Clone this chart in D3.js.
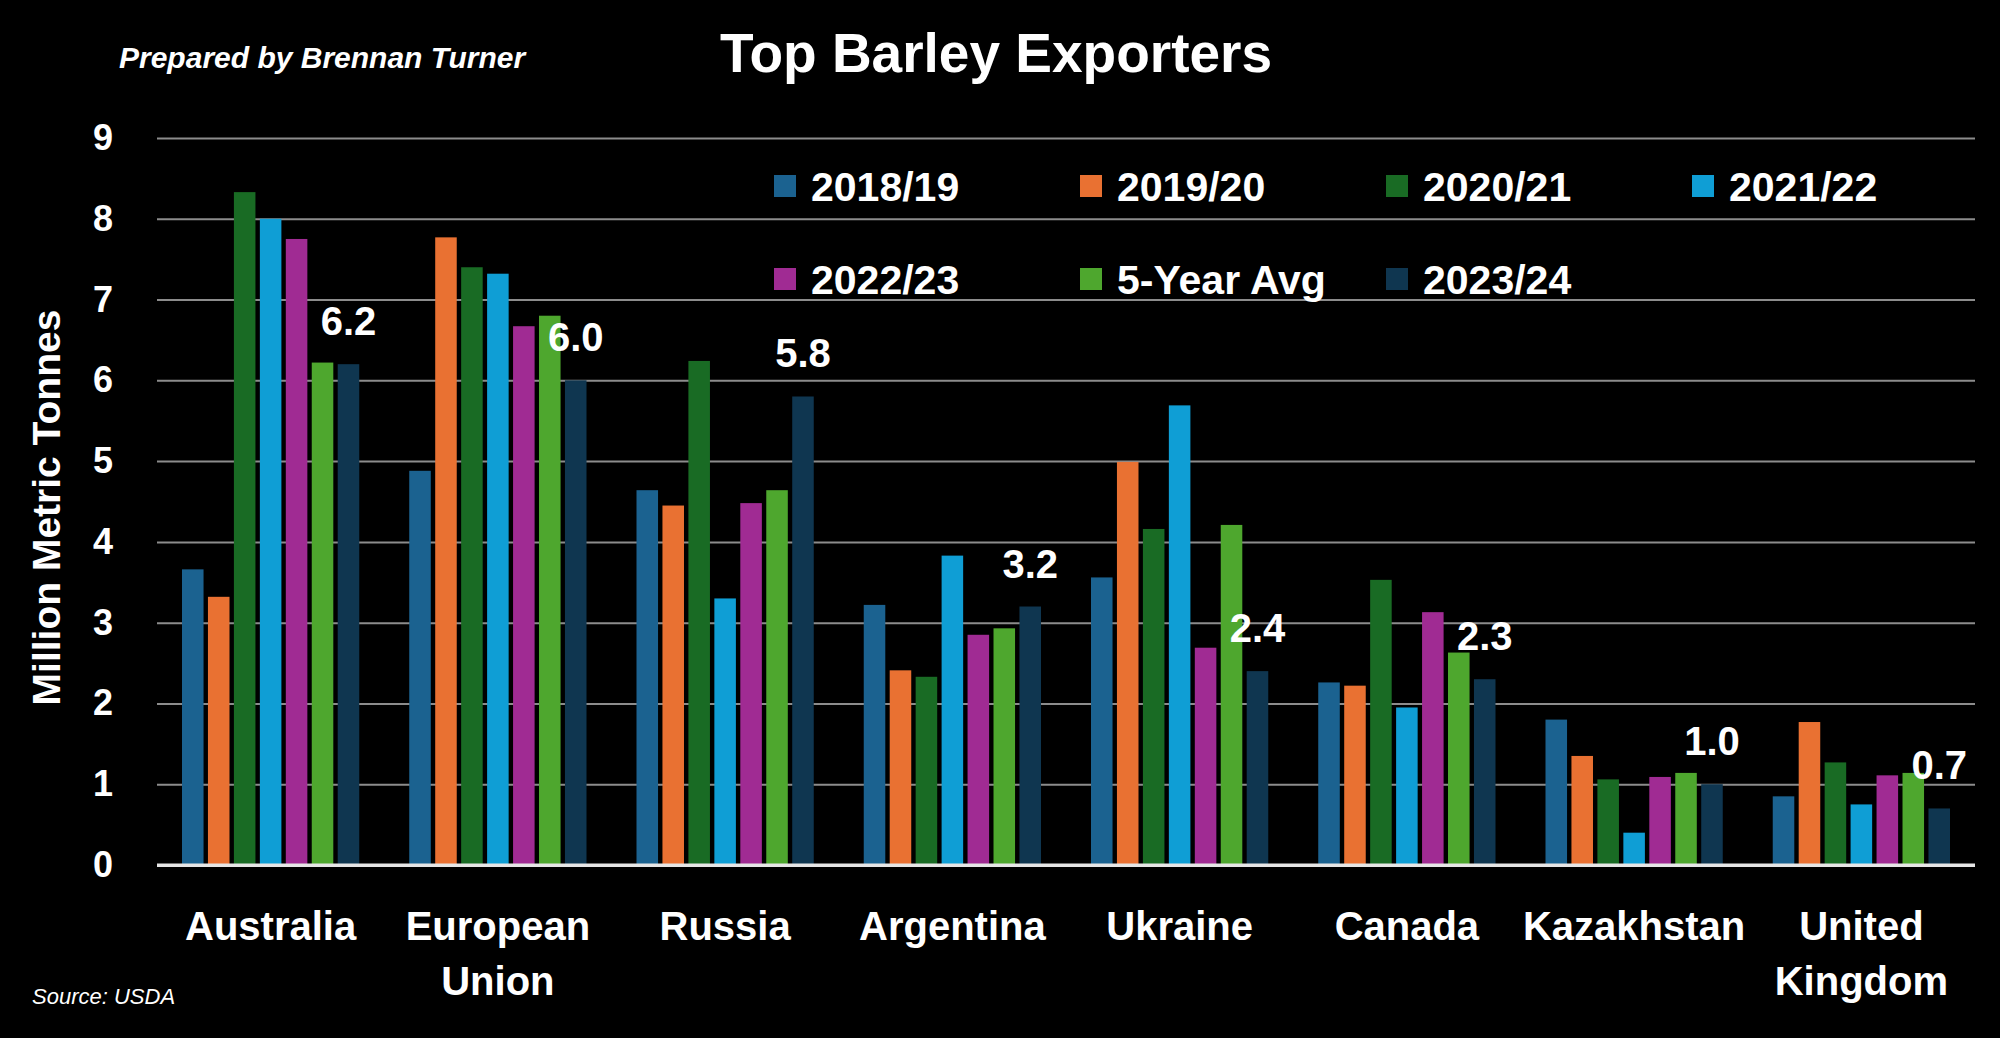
<!DOCTYPE html>
<html>
<head>
<meta charset="utf-8">
<script src="https://cdn.jsdelivr.net/npm/d3@7"></script>
<style>
  html, body { margin: 0; padding: 0; background: #000; }
  svg { display: block; }
  text { font-family: "Liberation Sans", Arial, sans-serif; fill: #fff; }
</style>
</head>
<body>
<script>
// ---- Data (million metric tonnes) ----
const categories = ["Australia", "European Union", "Russia", "Argentina", "Ukraine", "Canada", "Kazakhstan", "United Kingdom"];
const seriesNames = ["2018/19", "2019/20", "2020/21", "2021/22", "2022/23", "5-Year Avg", "2023/24"];
const v2018 = [3.66, 4.88, 4.64, 3.22, 3.56, 2.26, 1.80, 0.85];
const v2019 = [3.32, 7.77, 4.45, 2.41, 4.99, 2.22, 1.35, 1.77];
const v2020 = [8.33, 7.40, 6.24, 2.33, 4.16, 3.53, 1.06, 1.27];
const v2021 = [8.00, 7.32, 3.30, 3.83, 5.69, 1.95, 0.40, 0.75];
const v2022 = [7.75, 6.67, 4.48, 2.85, 2.69, 3.13, 1.09, 1.11];
const vAvg5 = [6.22, 6.80, 4.64, 2.93, 4.21, 2.63, 1.14, 1.14];
const v2023 = [6.2, 6.0, 5.8, 3.2, 2.4, 2.3, 1.0, 0.7];
const yTicks = [0, 1, 2, 3, 4, 5, 6, 7, 8, 9];
const seriesColors = ["#1B6290", "#E97132", "#196B24", "#0F9ED5", "#A02B93", "#4EA72E", "#0F3650"];

const seriesValues = [v2018, v2019, v2020, v2021, v2022, vAvg5, v2023];
const labelledSeries = "2023/24";

// ---- Layout ----
const W = 2000, H = 1038;
const plotL = 157, plotR = 1975, plotT = 138, plotB = 865;

const svg = d3.select("body").append("svg").attr("width", W).attr("height", H);
svg.append("rect").attr("width", W).attr("height", H).attr("fill", "#000");

const y = d3.scaleLinear().domain([0, 9]).range([plotB, plotT]);
const x0 = d3.scaleBand().domain(categories).range([plotL, plotR]).paddingInner(0.22).paddingOuter(0.11);
const x1 = d3.scaleBand().domain(seriesNames).range([0, x0.bandwidth()]).paddingInner(0.17).paddingOuter(0);
const color = d3.scaleOrdinal().domain(seriesNames).range(seriesColors);

// Gridlines + y tick labels
const yAxis = svg.append("g")
  .attr("transform", `translate(${plotL},0)`)
  .call(d3.axisLeft(y).tickValues(yTicks).tickSize(-(plotR - plotL)).tickPadding(44).tickFormat(d3.format("d")));
yAxis.select(".domain").remove();
yAxis.selectAll(".tick line")
  .attr("stroke", d => d === 0 ? "#e6e6e6" : "#8c8c8c")
  .attr("stroke-width", d => d === 0 ? 3 : 2);
yAxis.selectAll(".tick text")
  .attr("fill", "#fff")
  .style("font-size", "36px")
  .style("font-weight", "bold")
  .style("font-family", "'Liberation Sans', Arial, sans-serif");

// Bars
const rows = categories.map((c, i) => ({
  category: c,
  values: seriesNames.map((s, j) => ({ series: s, value: seriesValues[j][i] }))
}));

const groups = svg.append("g").selectAll("g").data(rows).join("g")
  .attr("transform", d => `translate(${x0(d.category)},0)`);

groups.selectAll("rect").data(d => d.values).join("rect")
  .attr("x", d => x1(d.series))
  .attr("width", x1.bandwidth())
  .attr("y", d => y(d.value))
  .attr("height", d => y(0) - y(d.value))
  .attr("fill", d => color(d.series));

// Redraw baseline on top of bars
svg.append("line")
  .attr("x1", plotL).attr("x2", plotR)
  .attr("y1", y(0)).attr("y2", y(0))
  .attr("stroke", "#e6e6e6").attr("stroke-width", 3);

// Data labels for 2023/24
groups.selectAll("text.dl").data(d => d.values.filter(v => v.series === labelledSeries)).join("text")
  .attr("class", "dl")
  .attr("x", d => x1(d.series) + x1.bandwidth() / 2)
  .attr("y", d => y(d.value) - 29)
  .attr("text-anchor", "middle")
  .style("font-size", "40px")
  .style("font-weight", "bold")
  .text(d => d3.format(".1f")(d.value));

// Category axis labels
const xAxis = svg.append("g")
  .attr("transform", `translate(0,${plotB})`)
  .call(d3.axisBottom(x0).tickSize(0).tickPadding(0));
xAxis.select(".domain").remove();
xAxis.selectAll(".tick text").each(function(d) {
  const t = d3.select(this);
  t.text(null).attr("y", 0).attr("dy", null)
    .style("font-size", "40px").style("font-weight", "bold")
    .style("font-family", "'Liberation Sans', Arial, sans-serif")
    .attr("fill", "#fff");
  const words = d.split(" ");
  words.forEach((w, i) => {
    t.append("tspan").attr("x", 0).attr("y", 75 + i * 55).text(w);
  });
});

// Y axis title
svg.append("text")
  .attr("transform", `translate(60,${(plotT + plotB) / 2 + 6}) rotate(-90)`)
  .attr("text-anchor", "middle")
  .style("font-size", "39px")
  .style("font-weight", "bold")
  .text("Million Metric Tonnes");

// Title & notes
svg.append("text")
  .attr("x", 996).attr("y", 72)
  .attr("text-anchor", "middle")
  .style("font-size", "55px").style("font-weight", "bold")
  .text("Top Barley Exporters");

svg.append("text")
  .attr("x", 119).attr("y", 68)
  .style("font-size", "30px").style("font-weight", "bold").style("font-style", "italic")
  .text("Prepared by Brennan Turner");

svg.append("text")
  .attr("x", 32).attr("y", 1004)
  .style("font-size", "22px").style("font-style", "italic")
  .text("Source: USDA");

// Legend
const legendPos = seriesNames.map((s, i) => ({
  series: s,
  col: i < 4 ? i : i - 4,
  row: i < 4 ? 0 : 1
}));
const legend = svg.append("g").selectAll("g").data(legendPos).join("g")
  .attr("transform", d => `translate(${774 + d.col * 306},${186 + d.row * 93})`);
legend.append("rect")
  .attr("x", 0).attr("y", -11).attr("width", 22).attr("height", 22)
  .attr("fill", d => color(d.series));
legend.append("text")
  .attr("x", 37).attr("y", 15)
  .style("font-size", "41px").style("font-weight", "bold")
  .text(d => d.series);
</script>
</body>
</html>
